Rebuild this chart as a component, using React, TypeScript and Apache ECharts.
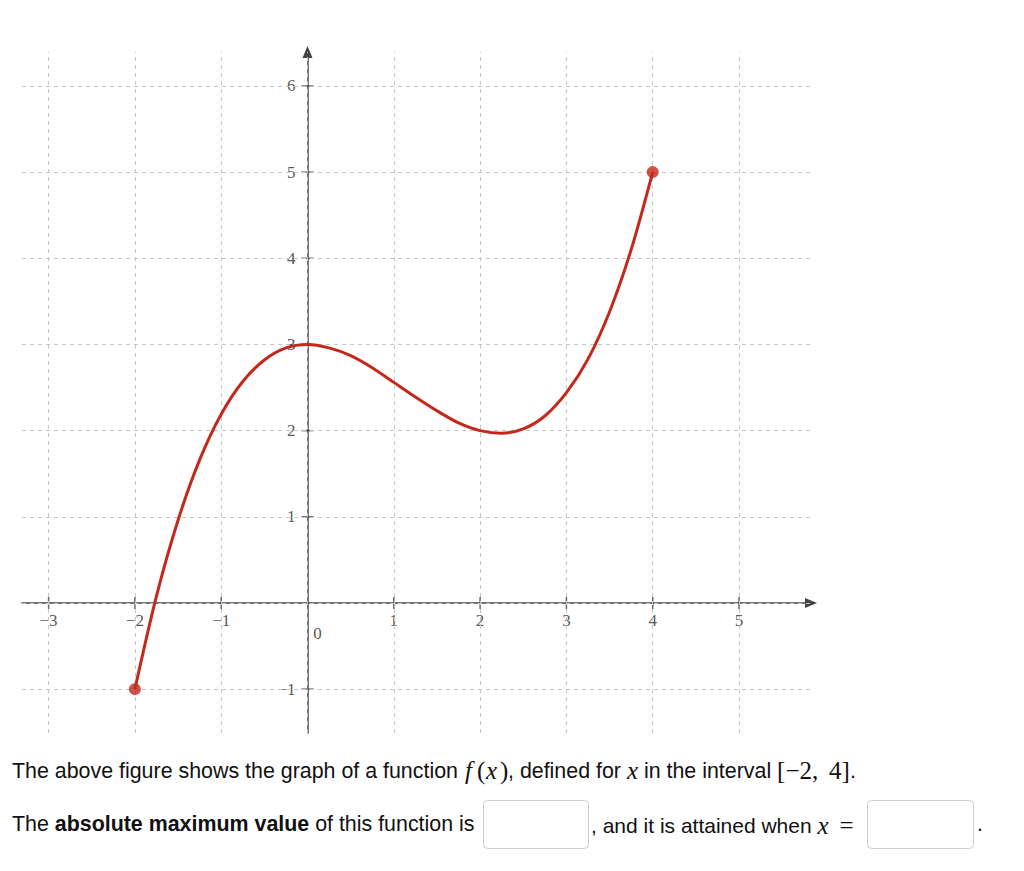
import React, { useEffect, useRef } from "react";
import * as echarts from "echarts";

// ---- data ----
const curveX = [-2, -1.75, -1.5, -1.25, -1, -0.75, -0.5, -0.25, 0, 0.25, 0.5, 0.75, 1, 1.25, 1.5, 1.75, 2, 2.25, 2.5, 2.75, 3, 3.25, 3.5, 3.75, 4];
const curveY = [-1, 0.08, 0.96, 1.66, 2.19, 2.57, 2.82, 2.96, 3, 2.96, 2.87, 2.73, 2.56, 2.39, 2.23, 2.09, 2.0, 1.97, 2.02, 2.17, 2.44, 2.83, 3.38, 4.1, 5];
const endpoints: [number, number][] = [[-2, -1], [4, 5]];
const xTicks = [-3, -2, -1, 1, 2, 3, 4, 5];
const yTicks = [-1, 1, 2, 3, 4, 5, 6];
const gridXs = [-3, -2, -1, 0, 1, 2, 3, 4, 5];
const gridYs = [-1, 0, 1, 2, 3, 4, 5, 6];
const xRange = [-3.308, 5.834];
const yRange = [-1.509, 6.394];

const fmt = (v: number) => (v < 0 ? "\u2212" + Math.abs(v) : String(v));

export default function App() {
  const ref = useRef<HTMLDivElement>(null);
  useEffect(() => {
    if (!ref.current) return;
    const chart = echarts.init(ref.current, null, { renderer: "svg" });
    const serif = "'Liberation Serif', 'DejaVu Serif', serif";
    const sans = "'Liberation Sans', Arial, sans-serif";
    const tickLabel = { fontFamily: serif, fontSize: 17, color: "#2a2a2a" };
    const S = { fontFamily: sans, fontSize: 21.4, fill: "#111" };
    const I = { fontFamily: serif, fontStyle: "italic", fontSize: 25, fill: "#111" };
    const R = { fontFamily: serif, fontSize: 25, fill: "#111" };
    const axisLine = {
      show: true,
      onZero: true,
      symbol: ["none", "triangle"],
      symbolSize: [10, 12],
      lineStyle: { color: "#444", width: 1.5 },
    };
    chart.setOption({
      animation: false,
      backgroundColor: "#fff",
      grid: { left: 22, right: 213, top: 52, bottom: 138 },
      xAxis: {
        type: "value",
        min: xRange[0],
        max: xRange[1],
        axisLine,
        axisTick: { show: false },
        axisLabel: { show: false },
        splitLine: { show: false },
      },
      yAxis: {
        type: "value",
        min: yRange[0],
        max: yRange[1],
        axisLine,
        axisTick: { show: false },
        axisLabel: { show: false },
        splitLine: { show: false },
      },
      series: [
        {
          type: "scatter",
          z: 1,
          silent: true,
          symbolSize: 0,
          data: [[0, 0]],
          markLine: {
            silent: true,
            symbol: ["none", "none"],
            label: { show: false },
            lineStyle: { type: [4, 4], color: "#c6c6c6", width: 1 },
            data: [
              ...gridXs.map((v) => ({ xAxis: v })),
              ...gridYs.map((v) => ({ yAxis: v })),
            ],
          },
        },
        {
          type: "scatter",
          z: 3,
          silent: true,
          symbol: "rect",
          symbolSize: [1.5, 12],
          itemStyle: { color: "#444" },
          data: xTicks.map((v) => [v, 0]),
          label: {
            show: true,
            position: "bottom",
            distance: 3,
            ...tickLabel,
            formatter: (p: any) => fmt(p.value[0]),
          },
        },
        {
          type: "scatter",
          z: 3,
          silent: true,
          symbol: "rect",
          symbolSize: [12, 1.5],
          itemStyle: { color: "#444" },
          data: yTicks.map((v) => [0, v]),
          label: {
            show: true,
            position: "left",
            distance: 6,
            ...tickLabel,
            formatter: (p: any) => fmt(p.value[1]),
          },
        },
        {
          type: "scatter",
          z: 3,
          silent: true,
          symbolSize: 0,
          data: [[0, 0]],
          label: {
            show: true,
            position: "inside",
            offset: [10, 31],
            ...tickLabel,
            formatter: () => "0",
          },
        },
        {
          type: "line",
          z: 5,
          silent: true,
          smooth: 0.3,
          showSymbol: false,
          lineStyle: { color: "#c4281c", width: 3 },
          data: curveX.map((x, i) => [x, curveY[i]]),
        },
        {
          type: "scatter",
          z: 6,
          silent: true,
          symbolSize: 12,
          itemStyle: { color: "#c4281c" },
          data: endpoints,
        },
      ],
      graphic: [
        {
          type: "text",
          left: 12,
          top: 758,
          style: {
            text:
              "{a|The above figure shows the graph of a function }{f|f}{p|(}{x|x}{q|)}{c|, defined for }{y|x}{d| in the interval }{e|[\u22122,}{g|4]}{s|.}",
            rich: {
              a: { ...S, width: 453 },
              f: { ...I, width: 12 },
              p: { ...R, width: 9 },
              x: { ...I, width: 14 },
              q: { ...R, width: 8 },
              c: { ...S, width: 119 },
              y: { ...I, width: 11 },
              d: S,
              e: { ...R, width: 52 },
              g: R,
              s: S,
            },
          },
        },
        {
          type: "text",
          left: 12,
          top: 813,
          style: {
            text: "{s|The }{b|absolute maximum value}{s| of this function is}",
            rich: {
              s: S,
              b: { ...S, fontWeight: "bold" },
            },
          },
        },
        {
          type: "rect",
          shape: { x: 483.5, y: 800.5, width: 105, height: 48, r: 4 },
          style: { fill: "#fff", stroke: "#cfcfcf", lineWidth: 1 },
        },
        {
          type: "text",
          left: 591,
          top: 813,
          style: {
            text: "{s|, and it is attained when }{i|x}{r|=}",
            rich: {
              s: { ...S, fontSize: 21 },
              i: { ...I, width: 22 },
              r: R,
            },
          },
        },
        {
          type: "rect",
          shape: { x: 867.5, y: 800.5, width: 106, height: 48, r: 4 },
          style: { fill: "#fff", stroke: "#cfcfcf", lineWidth: 1 },
        },
        {
          type: "text",
          left: 977,
          top: 813,
          style: { text: ".", ...S },
        },
      ],
    });
    return () => chart.dispose();
  }, []);
  return (
    <div
      ref={ref}
      style={{ position: "fixed", left: 0, top: 0, width: 1024, height: 871, background: "#fff" }}
    />
  );
}
